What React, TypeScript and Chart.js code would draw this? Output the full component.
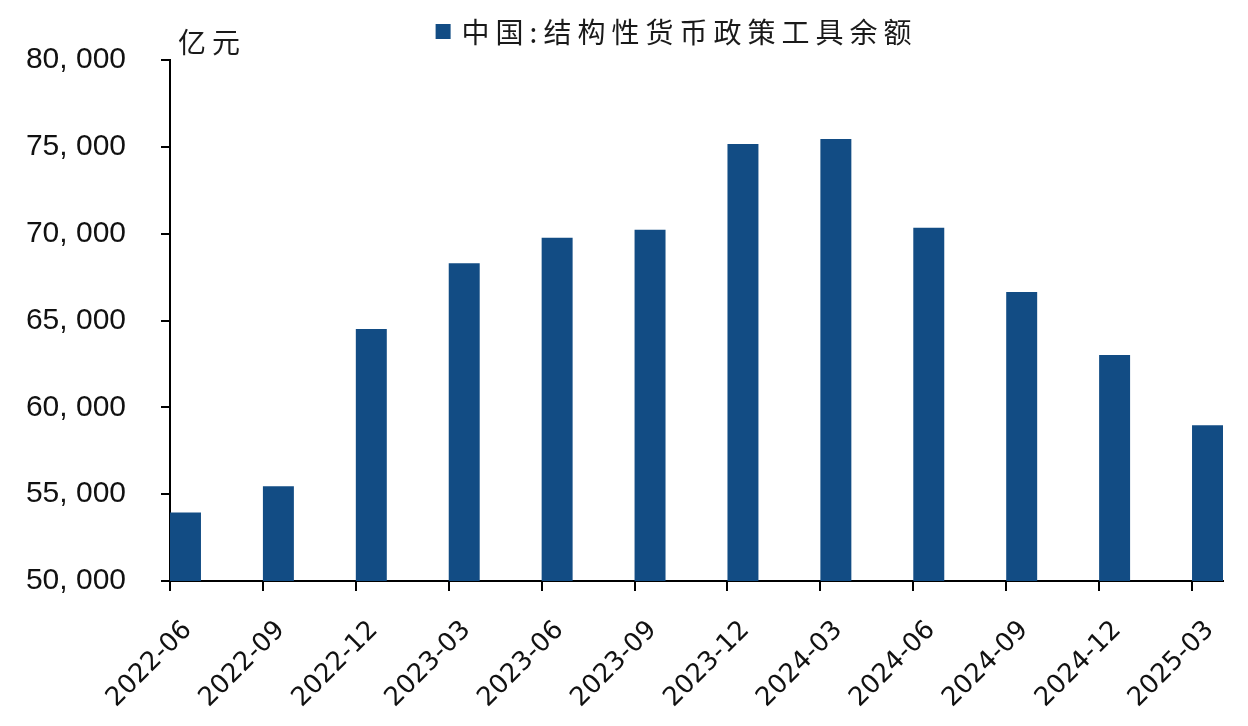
import React, { useEffect, useRef } from 'react';
import { Chart, registerables } from 'chart.js';

Chart.register(...registerables);

const categories = [
  '2022-06', '2022-09', '2022-12', '2023-03', '2023-06', '2023-09',
  '2023-12', '2024-03', '2024-06', '2024-09', '2024-12', '2025-03',
];
const values = [
  53940, 55450, 64510, 68300, 69760, 70220,
  75160, 75450, 70340, 66640, 63010, 58970,
];
const yMin = 50000;
const yMax = 80000;
const yStep = 5000;
const seriesLabel = '中国:结构性货币政策工具余额';
const unitLabel = '亿元';
const barColor = '#124C84';

const headerPlugin = {
  id: 'header',
  afterDraw(chart: any) {
    const ctx = chart.ctx as CanvasRenderingContext2D;
    const ds = chart.data.datasets[0];
    const area = chart.chartArea;
    ctx.save();
    ctx.font = '28px "Noto Sans CJK SC"';
    (ctx as any).letterSpacing = '6px';
    const textW = ctx.measureText(ds.label).width;
    const box = 15;
    const gap = 11;
    const total = box + gap + textW;
    const cx = (area.left + area.right) / 2 - 20;
    const x0 = cx - total / 2;
    ctx.fillStyle = ds.backgroundColor;
    ctx.fillRect(x0, 24, box, box);
    ctx.fillStyle = '#1a1a1a';
    ctx.textBaseline = 'middle';
    ctx.textAlign = 'left';
    ctx.fillText(ds.label, x0 + box + gap, 32);
    ctx.fillText(unitLabel, area.left + 8, 42);
    ctx.restore();
  },
};

export default function App() {
  const ref = useRef<HTMLCanvasElement | null>(null);

  useEffect(() => {
    document.body.style.margin = '0';
    const canvas = ref.current;
    if (!canvas) return;
    const n = categories.length;
    const chart = new Chart(canvas, {
      type: 'bar',
      data: {
        datasets: [
          {
            label: seriesLabel,
            data: values.map((v, i) => ({ x: i, y: v })),
            backgroundColor: barColor,
            borderWidth: 0,
            xAxisID: 'xb',
            yAxisID: 'y',
            categoryPercentage: 1,
            barPercentage: 1 / 3,
          } as any,
        ],
      },
      options: {
        animation: false,
        responsive: false,
        layout: { padding: { top: 60, right: 25, left: 0, bottom: 0 } },
        plugins: {
          legend: { display: false },
          tooltip: { enabled: false },
        },
        scales: {
          x: {
            type: 'linear',
            position: 'bottom',
            offset: false,
            min: 0,
            max: n - 1 + 1 / 3,
            afterBuildTicks: (s: any) => {
              s.ticks = categories.map((_, i) => ({ value: i }));
            },
            afterFit: (s: any) => {
              s.height = 145;
            },
            ticks: {
              autoSkip: false,
              minRotation: 45,
              maxRotation: 45,
              padding: 24,
              labelOffset: 18,
              color: '#111',
              font: { family: 'DejaVu Sans', size: 26 },
              callback: (v: any) => categories[v] ?? '',
            },
            grid: {
              offset: false,
              drawOnChartArea: false,
              drawTicks: true,
              tickLength: 10,
              color: '#000',
              lineWidth: 2,
            },
            border: { color: '#000', width: 2 },
          },
          xb: {
            type: 'linear',
            display: false,
            offset: false,
            grid: { offset: false },
            min: -1 / 6,
            max: n - 1 + 1 / 6,
          },
          y: {
            type: 'linear',
            position: 'left',
            min: yMin,
            max: yMax,
            afterFit: (s: any) => {
              s.width = 170;
            },
            ticks: {
              stepSize: yStep,
              padding: 35,
              color: '#111',
              font: { family: 'Liberation Sans', size: 30 },
              callback: (v: any) => Number(v).toLocaleString('en-US').replace(',', ', '),
            },
            grid: {
              drawOnChartArea: false,
              drawTicks: true,
              tickLength: 9,
              color: '#000',
              lineWidth: 2,
            },
            border: { color: '#000', width: 2 },
          },
        },
      } as any,
      plugins: [headerPlugin],
    });
    return () => chart.destroy();
  }, []);

  return (
    <div style={{ width: 1248, height: 726 }}>
      <canvas ref={ref} width={1248} height={726} />
    </div>
  );
}
